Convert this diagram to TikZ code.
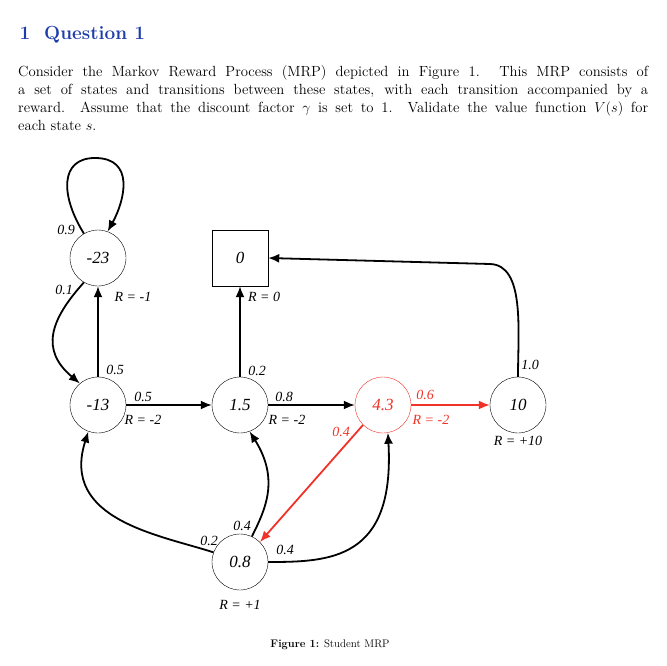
\documentclass[tikz,border=0pt]{standalone}
\usepackage{fontspec}
\newfontfamily\tms{Liberation Serif}
\usetikzlibrary{arrows.meta}
\definecolor{hblue}{RGB}{30,60,170}
\definecolor{mred}{RGB}{240,50,40}
\begin{document}
\begin{tikzpicture}[x=1pt,y=-1pt,
  st/.style={circle,draw,minimum size=56pt,inner sep=0pt,font=\tms\itshape\fontsize{17}{17}\selectfont},
  lb/.style={font=\tms\itshape\fontsize{14}{14}\selectfont,inner sep=0pt},
  ed/.style={line width=1.8pt,-{Latex[length=11pt,width=9pt]}}]
\useasboundingbox (0,0) rectangle (667,666);
\node[anchor=west,text=hblue,font=\bfseries\fontsize{19}{19}\selectfont] (h) at (16,35) {1\hspace{14pt}Question 1};
\node[anchor=north west,text width=630pt,align=justify,inner sep=0pt,font=\fontsize{14.7}{18}\selectfont] (p) at (18,65)
 {Consider the Markov Reward Process (MRP) depicted in Figure 1. This MRP consists of\linebreak
 a set of states and transitions between these states, with each transition accompanied by a\linebreak
 reward. Assume that the discount factor $\gamma$ is set to 1. Validate the value function $V(s)$ for\linebreak
 each state $s$.};
\node[st] (a) at (98,258) {-23};
\node[draw,minimum size=56pt,inner sep=0pt,font=\tms\itshape\fontsize{17}{17}\selectfont] (z) at (240,258) {0};
\node[st] (b) at (98,405) {-13};
\node[st] (c) at (240,405) {1.5};
\node[st,draw=mred,text=mred] (d) at (383,405) {4.3};
\node[st] (e) at (518,405) {10};
\node[st] (f) at (240,562) {0.8};
% edges
\draw[ed] (a.120) .. controls (60,195) and (60,158) .. (95,158) .. controls (135,158) and (125,200) .. (a.70);
\draw[ed] (a.240) .. controls (50,320) and (40,350) .. (b.130);
\draw[ed] (b) -- (a);
\draw[ed] (b) -- (c);
\draw[ed] (c) -- (z);
\draw[ed] (c) -- (d);
\draw[ed,color=mred] (d) -- (e);
\draw[ed] (e.north) .. controls (518,330) and (525,265) .. (490,264) -- (z.east);
\draw[ed,color=mred] (d.225) -- (f.45);
\draw[ed] (f.65) .. controls (265,510) and (280,480) .. (c.290);
\draw[ed] (f.east) .. controls (330,562) and (395,560) .. (d.280);
\draw[ed] (f.160) .. controls (160,535) and (60,520) .. (b.250);
% labels
\node[lb] (l1) at (66,230) {0.9};
\node[lb] (l2) at (64,290) {0.1};
\node[lb] (l3) at (133,297) {R = -1};
\node[lb] (l4) at (264,297) {R = 0};
\node[lb] (l5) at (115,370) {0.5};
\node[lb] (l6) at (143,397) {0.5};
\node[lb] (l7) at (143,420) {R = -2};
\node[lb] (l8) at (257,371) {0.2};
\node[lb] (l9) at (284,397) {0.8};
\node[lb] (l10) at (287,420) {R = -2};
\node[lb,text=mred] (l11) at (341,432) {0.4};
\node[lb,text=mred] (l12) at (425,395) {0.6};
\node[lb,text=mred] (l13) at (431,420) {R = -2};
\node[lb] (l14) at (530,365) {1.0};
\node[lb] (l15) at (518,441) {R = +10};
\node[lb] (l16) at (242,526) {0.4};
\node[lb] (l17) at (209,541) {0.2};
\node[lb] (l18) at (285,550) {0.4};
\node[lb] (l19) at (240,605) {R = +1};
\node[font=\fontsize{11}{11}\selectfont] (cap) at (330,645) {\textbf{Figure 1:} Student MRP};
\end{tikzpicture}
\end{document}
